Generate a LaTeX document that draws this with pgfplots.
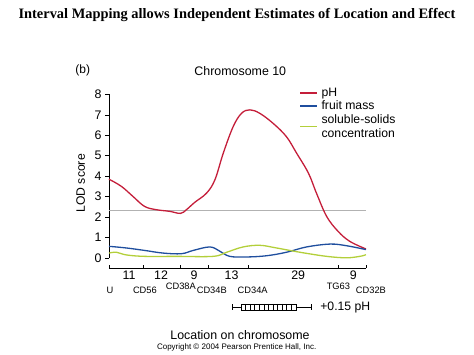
\documentclass[border=0pt]{standalone}
\usepackage{pgfplots}
\pgfplotsset{compat=1.18}
\usepackage{fontspec}
\setmainfont{Liberation Sans}
\newfontfamily\titlefont{Liberation Serif}
\definecolor{phred}{HTML}{C41E3A}
\definecolor{fmblue}{HTML}{1F4E9E}
\definecolor{ssgreen}{HTML}{B3CF3A}
\begin{document}
\begin{tikzpicture}
\useasboundingbox (0,0) rectangle (474pt,355pt);
\begin{axis}[
  at={(109pt,97pt)}, anchor=south west,
  scale only axis, width=257pt, height=163.7pt,
  xmin=0, xmax=83, ymin=0, ymax=8, clip=false,
  axis x line=none, axis y line=left,
  axis line style={-, thin},
  ytick={0,...,8}, tick align=outside, major tick length=4pt,
  tick style={thin, black},
  /pgf/number format/assume math mode=true,
  yticklabel style={font=\fontsize{12.4}{14}\selectfont},
  ylabel={LOD score},
  ylabel style={font=\fontsize{12.2}{14}\selectfont, at={(axis description cs:-0.110,0.456)}, anchor=center},
  title={Chromosome 10},
  title style={font=\fontsize{12.4}{14}\selectfont, at={(axis description cs:0.511,1.107)}, anchor=center},
  legend style={at={(axis description cs:0.730,1.055)}, anchor=north west, draw=none, fill=none,
    font=\fontsize{12.2}{14.4}\selectfont, nodes={align=left, inner sep=0.5pt}, row sep=2pt, column sep=3pt},
  legend cell align=left,
  legend image code/.code={\draw[#1] (0pt,0pt) -- (17pt,0pt);},
]
\addplot[gray!60, thin, forget plot] coordinates {(0,2.33) (83,2.33)};
\addplot[phred, line width=1.3pt, smooth, tension=0.6] coordinates {
(0,3.85) (4,3.5) (7.8,3.0) (11.5,2.52) (15.3,2.36) (19.6,2.28) (23.1,2.18)
(25,2.36) (27.7,2.72) (31.5,3.17) (34.2,3.82) (36.9,5.12) (40.1,6.42)
(42.8,7.07) (45.5,7.24) (48.7,7.07) (53,6.58) (57.3,5.93) (60.6,5.12)
(64.4,4.15) (67,3.17) (70.3,2.03) (74,1.3) (77.8,0.81) (83,0.44)};
\addlegendentry{pH}
\addplot[fmblue, line width=1.3pt, smooth, tension=0.6] coordinates {
(0,0.57) (5.6,0.49) (11.5,0.37) (17.5,0.24) (23.4,0.21) (27.2,0.37)
(32.6,0.54) (35.8,0.33) (39,0.08) (44.4,0.05) (50.9,0.11) (57.3,0.28)
(63.8,0.54) (71.4,0.68) (76.7,0.6) (83,0.41)};
\addlegendentry{fruit mass}
\addplot[ssgreen, line width=1.3pt, smooth, tension=0.6] coordinates {
(0,0.24) (2.4,0.28) (5.6,0.15) (11.5,0.08) (21.8,0.08) (33.6,0.08)
(38,0.28) (43.3,0.54) (48.7,0.62) (54.1,0.49) (61.7,0.28) (70.3,0.08)
(76.7,0.01) (81,0.08) (83,0.16)};
\addlegendentry{soluble-solids\\concentration}
% marker bar
\draw[thin] (axis cs:0,-0.49) -- (axis cs:83,-0.49);
\draw[thin] (axis cs:0,-0.49) -- ++(0,3pt);
\draw[thin] (axis cs:11,-0.49) -- ++(0,3pt);
\draw[thin] (axis cs:23,-0.49) -- ++(0,3pt);
\draw[thin] (axis cs:32,-0.49) -- ++(0,3pt);
\draw[thin] (axis cs:45,-0.49) -- ++(0,3pt);
\draw[thin] (axis cs:74,-0.49) -- ++(0,3pt);
\draw[thin] (axis cs:83,-0.49) -- ++(0,3pt);
\begin{scope}[every node/.style={font=\fontsize{12.4}{14}\selectfont, inner sep=0pt}]
\node at (axis cs:6.5,-0.83) {11};
\node at (axis cs:16.8,-0.83) {12};
\node at (axis cs:27.5,-0.83) {9};
\node at (axis cs:39.6,-0.83) {13};
\node at (axis cs:61.1,-0.83) {29};
\node at (axis cs:78.9,-0.83) {9};
\end{scope}
\begin{scope}[every node/.style={font=\fontsize{9.3}{11}\selectfont, inner sep=0pt}]
\node at (axis cs:0.3,-1.56) {U};
\node at (axis cs:11.6,-1.56) {CD56};
\node at (axis cs:23.2,-1.37) {CD38A};
\node at (axis cs:33.2,-1.56) {CD34B};
\node at (axis cs:46.4,-1.56) {CD34A};
\node at (axis cs:74.1,-1.37) {TG63};
\node at (axis cs:84.6,-1.56) {CD32B};
\end{scope}
% interval
\draw[thin] (axis cs:39.8,-2.41) -- (axis cs:42.6,-2.41);
\draw[thin] (axis cs:60.3,-2.41) -- (axis cs:65.2,-2.41);
\draw[thin] (axis cs:39.8,-2.26) -- (axis cs:39.8,-2.56);
\draw[thin] (axis cs:65.2,-2.26) -- (axis cs:65.2,-2.56);
\draw[thin] (axis cs:42.6,-2.24) rectangle (axis cs:60.3,-2.57);
\draw[thin] (axis cs:44.075,-2.24) -- (axis cs:44.075,-2.57);
\draw[thin] (axis cs:45.55,-2.24) -- (axis cs:45.55,-2.57);
\draw[thin] (axis cs:47.025,-2.24) -- (axis cs:47.025,-2.57);
\draw[thin] (axis cs:48.5,-2.24) -- (axis cs:48.5,-2.57);
\draw[thin] (axis cs:49.975,-2.24) -- (axis cs:49.975,-2.57);
\draw[thin] (axis cs:51.45,-2.24) -- (axis cs:51.45,-2.57);
\draw[thin] (axis cs:52.925,-2.24) -- (axis cs:52.925,-2.57);
\draw[thin] (axis cs:54.4,-2.24) -- (axis cs:54.4,-2.57);
\draw[thin] (axis cs:55.875,-2.24) -- (axis cs:55.875,-2.57);
\draw[thin] (axis cs:57.35,-2.24) -- (axis cs:57.35,-2.57);
\draw[thin] (axis cs:58.825,-2.24) -- (axis cs:58.825,-2.57);
\node[anchor=west, inner sep=0pt, font=\fontsize{12.2}{14}\selectfont] at (axis cs:68.2,-2.41) {+0.15 pH};
\end{axis}
\node[font=\titlefont\bfseries\fontsize{14.4}{16}\selectfont] at (237pt,340pt) {Interval Mapping allows Independent Estimates of Location and Effect};
\node[font=\fontsize{12}{14}\selectfont] at (82.7pt,285pt) {(b)};
\node[font=\fontsize{12.4}{14}\selectfont] at (240pt,20pt) {Location on chromosome};
\node[font=\fontsize{8}{10}\selectfont] at (236.7pt,7.7pt) {Copyright \textcopyright{} 2004 Pearson Prentice Hall, Inc.};
\end{tikzpicture}
\end{document}
